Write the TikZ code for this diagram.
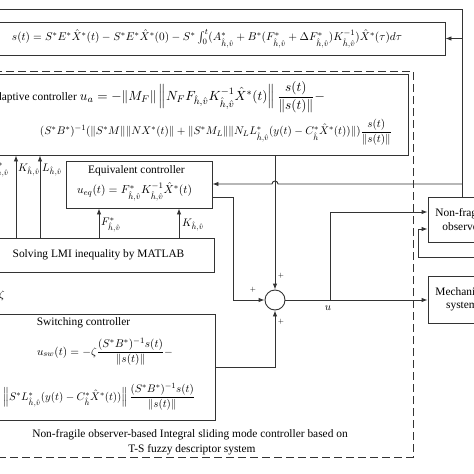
\documentclass[tikz,border=0pt]{standalone}
\usepackage{amsmath}
\usepackage{fontspec}
\setmainfont{Liberation Serif}
\usepackage{graphicx}
\usetikzlibrary{arrows.meta,calc}
\tikzset{
 box/.style={draw=black!80, line width=0.9pt, rectangle, inner sep=0pt},
 arr/.style={draw=black!80, line width=0.9pt, -{Latex[length=6pt,width=4.5pt]}},
 ln/.style={draw=black!80, line width=0.9pt},
 eqn/.style={inner sep=0pt, anchor=center},
 txt/.style={inner sep=0pt},
 lbl/.style={inner sep=0pt, font=\fontsize{11}{13}\selectfont},
 pl/.style={inner sep=0pt, font=\fontsize{7}{8}\selectfont},
}
\begin{document}
\begin{tikzpicture}[x=1pt,y=-1pt, every node/.style={font=\fontsize{11.4}{13.5}\selectfont}]
\useasboundingbox (0,0) rectangle (474,474);
\fill[white] (0,0) rectangle (474,474);
\clip (0,0) rectangle (474,474);
% boxes
\node[box, minimum width=485pt, minimum height=33pt] (st) at (202.5,38.5) {};
\node[draw=black!80, line width=1pt, dash pattern=on 8pt off 4pt, minimum width=463pt, minimum height=386pt, inner sep=0pt] (dash) at (181.5,264) {};
\node[box, minimum width=448pt, minimum height=81pt] (adap) at (184,114.5) {};
\node[box, minimum width=146pt, minimum height=47pt] (eq) at (139,184.5) {};
\node[box, minimum width=254pt, minimum height=34pt] (lmi) at (87,255) {};
\node[box, minimum width=255pt, minimum height=106pt] (sw) at (87.5,367) {};
\node[box, minimum width=68pt, minimum height=45pt, align=center] (obs) at (462,219.5) {Non-fragile\\observer};
\node[box, minimum width=68pt, minimum height=47pt, align=center] (mech) at (462,299.5) {Mechanical\\system};
\node[circle, draw=black!80, line width=0.9pt, minimum size=20pt, inner sep=0pt] (sum) at (275,300) {};
% formulas
\node[eqn] (stf) at (207,39) {\resizebox{390pt}{!}{$s(t)=S^{*}E^{*}\hat{X}^{*}(t)-S^{*}E^{*}\hat{X}^{*}(0)-S^{*}\int_{0}^{t}(A^{*}_{\hat h,\hat v}+B^{*}(F^{*}_{\hat h,\hat v}+\Delta F^{*}_{\hat h,\hat v})K^{-1}_{\hat h,\hat v})\hat{X}^{*}(\tau)d\tau$}};
\node[eqn] (ad1) at (202.5,97) {\resizebox{245pt}{!}{$u_{a}=-\|M_{F}\|\left\|N_{F}F_{\hat h,\hat v}K^{-1}_{\hat h,\hat v}\hat{X}^{*}(t)\right\|\dfrac{s(t)}{\|s(t)\|}-$}};
\node[eqn] (ad2) at (216,132) {\resizebox{352pt}{!}{$(S^{*}B^{*})^{-1}(\|S^{*}M\|\|NX^{*}(t)\|+\|S^{*}M_{L}\|\|N_{L}L^{*}_{\hat h,\hat v}(y(t)-C^{*}_{\hat h}\hat{X}^{*}(t))\|)\dfrac{s(t)}{\|s(t)\|}$}};
\node[eqn] (eqf) at (134.5,192) {\resizebox{115pt}{!}{$u_{eq}(t)=F^{*}_{\hat h,\hat v}K^{-1}_{\hat h,\hat v}\hat{X}^{*}(t)$}};
\node[eqn] (sw1) at (105,352) {\resizebox{136pt}{!}{$u_{sw}(t)=-\zeta\dfrac{(S^{*}B^{*})^{-1}s(t)}{\|s(t)\|}-$}};
\node[eqn] (sw2) at (99,397) {\resizebox{192pt}{!}{$\left\|S^{*}L^{*}_{\hat h,\hat v}(y(t)-C^{*}_{\hat h}\hat{X}^{*}(t))\right\|\dfrac{(S^{*}B^{*})^{-1}s(t)}{\|s(t)\|}$}};
% texts
\node[txt, anchor=base east] (adt) at (77,100) {Adaptive controller};
\node[txt] (eqt) at (136.5,171) {Equivalent controller};
\node[txt] (lmit) at (98.5,255) {Solving LMI inequality by MATLAB};
\node[txt] (swt) at (83.5,323) {Switching controller};
\node[txt] (cap1) at (190,435) {Non-fragile observer-based Integral sliding mode controller based on};
\node[txt] (cap2) at (192,450) {T-S fuzzy descriptor system};
% connectors
\coordinate (xk) at (16,0); \coordinate (xl) at (40,0);
\draw[arr] (lmi.north -| xk) -- (adap.south -| xk);
\draw[arr] (lmi.north -| xl) -- (adap.south -| xl);
\coordinate (xf) at (99,0); \coordinate (xkk) at (179,0);
\draw[arr] (lmi.north -| xf) -- (eq.south -| xf);
\draw[arr] (lmi.north -| xkk) -- (eq.south -| xkk);
\coordinate (xeq) at (233,0);
\draw[arr] ([yshift=-12.5pt]eq.east) -| (xeq |- sum.west) -- (sum.west);
\draw[arr] (adap.south -| sum.north) -- (sum.north);
\draw[arr] (sw.east) -| (sum.south);
\draw[arr] (sum.east) -- (sum.east -| mech.west);
\coordinate (ub) at (330,300);
\draw[arr] (ub) |- ([yshift=7.5pt]obs.west);
\coordinate (lpr) at (490,257); \coordinate (lpl) at (418,257);
\draw[arr] (lpr) -- (lpl) |- ([yshift=-9.5pt]obs.west);
\coordinate (tr) at (462,9); \coordinate (tl) at (-10,9);
\draw[ln] (obs.north) -- (tr) -- (tl);
\draw[arr] (obs.north |- st.east) -- (st.east);
\coordinate (hb) at (462,184);
\coordinate (hp) at (275,184);
\draw[arr] (hb) -- ($(hp)+(3,0)$) arc[start angle=0, end angle=-180, radius=3] -- (hb -| eq.east);
% labels
\node[lbl, anchor=east] (lf) at (9,170) {$F^{*}_{\hat h,\hat v}$};
\node[lbl, anchor=west] (lk) at (18,170) {$K_{\hat h,\hat v}$};
\node[lbl, anchor=west] (ll) at (42,170) {$L_{\hat h,\hat v}$};
\node[lbl, anchor=west] (lf2) at (101,225) {$F^{*}_{\hat h,\hat v}$};
\node[lbl, anchor=west] (lk2) at (182,225) {$K_{\hat h,\hat v}$};
\node[lbl] (lu) at (328,308) {$u$};
\node[pl] (p1) at (281,276) {$+$};
\node[pl] (p2) at (253,290) {$+$};
\node[pl] (p3) at (281,322) {$+$};
\node[lbl] (lz) at (2,296) {$\zeta$};
\end{tikzpicture}
\end{document}
